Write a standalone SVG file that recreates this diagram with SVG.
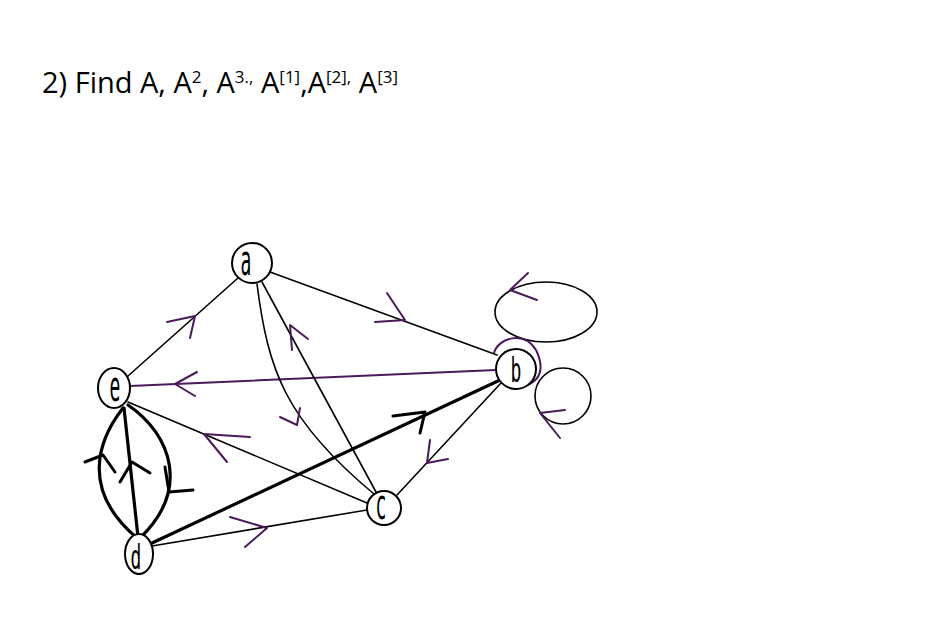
<svg xmlns="http://www.w3.org/2000/svg" width="930" height="638" viewBox="0 0 930 638">
<style>
.title{font-family:"Open Sans","Liberation Sans",sans-serif;font-size:29px;fill:#000}
.sup{font-size:17px}
.e{fill:none;stroke:#000;stroke-width:1.6;stroke-linecap:round}
.thick{stroke-width:3.2}
.p{fill:none;stroke:#4a1a5a;stroke-width:2;stroke-linecap:round;stroke-linejoin:round}
.ah{fill:none;stroke:#000;stroke-width:3;stroke-linecap:round;stroke-linejoin:round}
.node{fill:#fff;stroke:#000;stroke-width:2}
.lbl{font-family:"DejaVu Sans Mono","Liberation Mono",monospace;font-size:18px;fill:#000;text-anchor:middle}
</style>
<rect width="930" height="638" fill="#fff"/>
<text class="title" x="42" y="93">2) Find A, A<tspan class="sup" dy="-10">2</tspan><tspan dy="10">, A</tspan><tspan class="sup" dy="-10">3.,</tspan><tspan dy="10"> A</tspan><tspan class="sup" dy="-10">[1]</tspan><tspan dy="10">,A</tspan><tspan class="sup" dy="-10">[2],</tspan><tspan dy="10"> A</tspan><tspan class="sup" dy="-10">[3]</tspan></text>
<g id="connectors">
<line class="e" x1="128" y1="376" x2="238" y2="278"/>
<line class="p" x1="496" y1="370" x2="130" y2="386"/>
<line class="e" x1="270" y1="272" x2="497" y2="355"/>
<line class="e" x1="262" y1="282" x2="376" y2="492"/>
<path class="e" d="M257,284 C268,370 285,420 374,494"/>
<line class="e" x1="128" y1="402" x2="367" y2="503"/>
<line class="e" x1="152" y1="546" x2="367" y2="510"/>
<line class="e" x1="397" y1="495" x2="501" y2="383"/>
<line class="e thick" x1="152" y1="543" x2="500" y2="380"/>
<line class="e thick" x1="124" y1="408" x2="138" y2="537"/>
<path class="e thick" d="M123,408 C98,440 80,490 137,538"/>
<path class="e thick" d="M128,405 C172,435 190,490 140,538"/>
<ellipse class="e" cx="546" cy="312" rx="51" ry="30"/>
<ellipse class="e" cx="563" cy="396" rx="28" ry="28"/>
<path class="p" stroke-width="1.4" d="M494,353 C498,338 524,330 536,350 C541,360 546,378 527,385"/>
<polyline class="p" points="167,322 195,316 190,338"/>
<polyline class="p" points="197,372 175,384 195,396"/>
<polyline class="p" points="387,293 405,320 375,322"/>
<polyline class="p" points="308,339 290,325 292,350"/>
<polyline class="p" points="280,417 297,425 300,408"/>
<polyline class="p" points="250,437 204,434 227,462"/>
<polyline class="p" points="230,517 267,528 245,547"/>
<polyline class="p" points="430,440 427,463 448,459"/>
<polyline class="p" points="528,273 510,290 537,300"/>
<polyline class="p" points="565,410 540,413 560,438"/>
<polyline class="ah" points="393,416 425,412 420,433"/>
<polyline class="ah" points="85,462 103,455 115,472"/>
<polyline class="ah" points="120,482 132,462 150,473"/>
<polyline class="ah" points="165,467 169,492 193,490"/>
</g>
<g id="node-a"><ellipse class="node" cx="252" cy="263" rx="20" ry="20"/><text class="lbl" transform="translate(246,275) scale(1,2.4)">a</text></g>
<g id="node-b"><ellipse class="node" cx="516" cy="369" rx="20" ry="20"/><text class="lbl" transform="translate(516,382) scale(1,1.9)">b</text></g>
<g id="node-c"><ellipse class="node" cx="384" cy="508" rx="17" ry="17"/><text class="lbl" transform="translate(381,519) scale(1,2.4)">c</text></g>
<g id="node-d"><ellipse class="node" cx="139" cy="554" rx="14" ry="20"/><text class="lbl" transform="translate(136,569) scale(1,1.9)">d</text></g>
<g id="node-e"><ellipse class="node" cx="114" cy="388" rx="16" ry="20"/><text class="lbl" transform="translate(115,401) scale(1,2.4)">e</text></g>
</svg>
